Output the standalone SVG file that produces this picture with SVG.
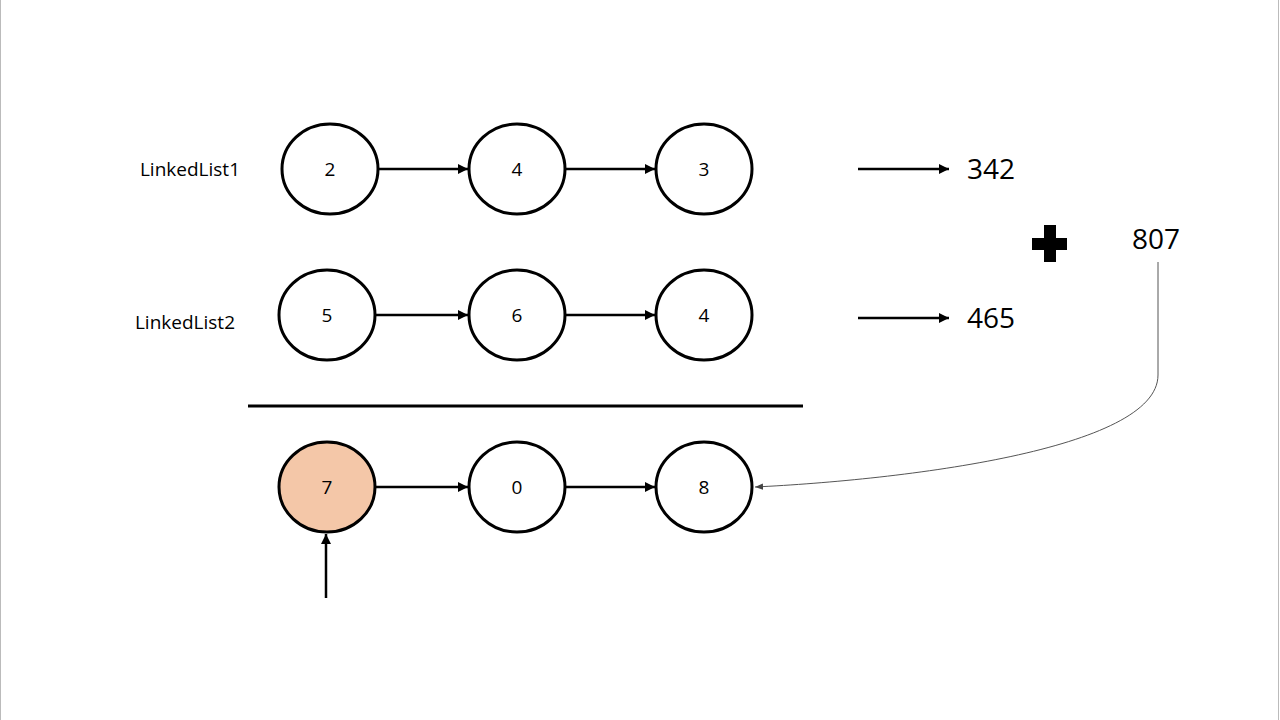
<svg xmlns="http://www.w3.org/2000/svg" width="1280" height="720" viewBox="0 0 1280 720">
<style>
.n{fill:#fff;stroke:#000;stroke-width:3}
.t{font-family:"Open Sans","Liberation Sans",sans-serif;font-size:19px;text-anchor:middle;fill:#000}
.l{font-family:"Open Sans","Liberation Sans",sans-serif;font-size:19px;text-anchor:end;fill:#000}
.b{font-family:"Open Sans","Liberation Sans",sans-serif;font-size:28px;text-anchor:start;fill:#000}
.c{stroke:#000;stroke-width:2.5;fill:none}
</style>
<defs><marker id="a" viewBox="0 0 10 10" refX="10" refY="5" markerWidth="4" markerHeight="4" orient="auto"><path d="M0,0L10,5L0,10z"/></marker>
<marker id="s" viewBox="0 0 10 10" refX="10" refY="5" markerWidth="8" markerHeight="8" orient="auto"><path d="M0,1L10,5L0,9z" fill="#444"/></marker></defs>
<rect width="1280" height="720" fill="#fff"/>
<line x1="0.5" y1="0" x2="0.5" y2="720" stroke="#bbb"/>
<line x1="1278.5" y1="0" x2="1278.5" y2="720" stroke="#bbb"/>
<text class="l" x="240" y="176">LinkedList1</text>
<text class="l" x="235" y="329">LinkedList2</text>
<g id="connectors">
<line class="c" x1="379" y1="169" x2="468" y2="169" marker-end="url(#a)"/>
<line class="c" x1="566" y1="169" x2="655" y2="169" marker-end="url(#a)"/>
<line class="c" x1="376" y1="315" x2="468" y2="315" marker-end="url(#a)"/>
<line class="c" x1="566" y1="315" x2="655" y2="315" marker-end="url(#a)"/>
<line class="c" x1="376" y1="487" x2="468" y2="487" marker-end="url(#a)"/>
<line class="c" x1="566" y1="487" x2="655" y2="487" marker-end="url(#a)"/>
<line class="c" x1="858" y1="169" x2="949" y2="169" marker-end="url(#a)"/>
<line class="c" x1="858" y1="318" x2="949" y2="318" marker-end="url(#a)"/>
<line class="c" x1="326" y1="598" x2="326" y2="534" marker-end="url(#a)"/>
<path d="M1158,262 L1158,375 C1158,450 900,480 755,487" stroke="#555" stroke-width="1" fill="none" marker-end="url(#s)"/>
</g>
<line x1="248" y1="406" x2="803" y2="406" stroke="#000" stroke-width="3"/>
<g id="n1"><ellipse class="n" cx="330" cy="169" rx="48" ry="45"/><text class="t" x="330" y="176">2</text></g>
<g id="n2"><ellipse class="n" cx="517" cy="169" rx="48" ry="45"/><text class="t" x="517" y="176">4</text></g>
<g id="n3"><ellipse class="n" cx="704" cy="169" rx="48" ry="45"/><text class="t" x="704" y="176">3</text></g>
<g id="n4"><ellipse class="n" cx="327" cy="315" rx="48" ry="45"/><text class="t" x="327" y="322">5</text></g>
<g id="n5"><ellipse class="n" cx="517" cy="315" rx="48" ry="45"/><text class="t" x="517" y="322">6</text></g>
<g id="n6"><ellipse class="n" cx="704" cy="315" rx="48" ry="45"/><text class="t" x="704" y="322">4</text></g>
<g id="n7"><ellipse class="n" cx="327" cy="487" rx="48" ry="45" style="fill:#f4c7a8"/><text class="t" x="327" y="494">7</text></g>
<g id="n8"><ellipse class="n" cx="517" cy="487" rx="48" ry="45"/><text class="t" x="517" y="494">0</text></g>
<g id="n9"><ellipse class="n" cx="704" cy="487" rx="48" ry="45"/><text class="t" x="704" y="494">8</text></g>
<text class="b" x="967" y="179">342</text>
<text class="b" x="967" y="328">465</text>
<text class="b" x="1132" y="249">807</text>
<path d="M1044,225h12v13h11v12h-11v12h-12v-12h-12v-12h12z" fill="#000"/>
</svg>
